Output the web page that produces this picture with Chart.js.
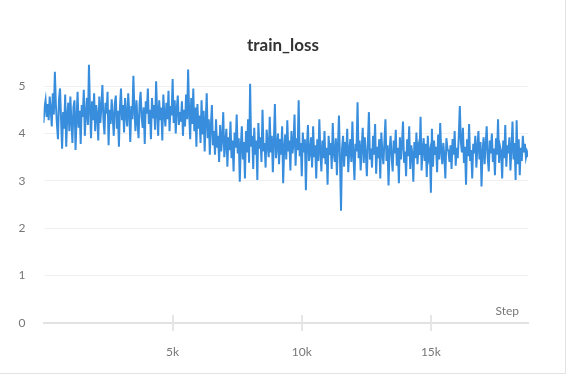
<!DOCTYPE html>
<html>
<head>
<meta charset="utf-8">
<script src="https://cdn.jsdelivr.net/npm/chart.js@4.4.1/dist/chart.umd.min.js"></script>
<style>
  html, body { margin: 0; padding: 0; background: #fff; }
  #wrap { position: relative; width: 566px; height: 375px; }
  #frame {
    position: absolute; left: 0; top: 0; width: 566px; height: 374px;
    box-sizing: border-box; border-right: 1px solid #e3e3e3; border-bottom: 1px solid #e3e3e3;
    pointer-events: none;
  }
</style>
</head>
<body>
<div id="wrap">
  <canvas id="chart" width="566" height="375"></canvas>
  <div id="frame"></div>
</div>
<script>
const STEP_INTERVAL = 40;
const LOSS = [
  // 0 - 5.3k
  4.22, 4.55, 4.70, 4.35, 4.62, 4.28, 4.78, 4.50, 4.15, 4.85, 4.40, 5.30, 4.60, 4.20, 3.88, 4.72, 4.95, 4.30, 3.68, 4.45,
  4.10, 4.82, 3.72, 4.38, 4.65, 4.05, 4.78, 4.25, 3.80, 4.55, 4.70, 3.65, 4.30, 4.88, 4.12, 4.48, 3.78, 4.60, 4.35, 4.92,
  3.95, 4.40, 4.75, 4.18, 5.45, 4.52, 3.90, 4.68, 4.28, 4.85, 4.05, 4.60, 4.40, 3.85, 4.78, 4.22, 4.55, 5.02, 4.30, 3.98,
  4.65, 4.42, 4.88, 3.75, 4.50, 4.20, 4.72, 4.35, 3.95, 4.62, 4.80, 4.10, 4.48, 3.72, 4.55, 4.95, 4.28, 4.60, 4.02, 4.75,
  4.38, 4.15, 4.85, 4.45, 3.82, 4.58, 4.30, 5.22, 4.50, 4.05, 4.70, 4.25, 3.90, 4.62, 4.88, 4.35, 4.12, 4.55, 3.78, 4.68,
  4.42, 4.95, 4.20, 4.50, 3.88, 4.75, 4.32, 4.60, 4.08, 5.10, 4.45, 3.95, 4.70, 4.28, 4.55, 3.85, 4.82, 4.40, 4.15, 4.65,
  4.30, 4.90, 4.05, 4.58, 4.38, 5.15, 4.22, 4.70, 4.00, 4.52, 4.80, 4.18, 4.45,
  // 5.3k - 6.6k
  4.25, 4.68, 3.95, 4.50, 4.15, 4.82, 4.30, 5.35, 4.40, 3.88, 4.75, 4.20, 4.95, 4.05, 4.55, 3.72, 4.62, 4.10, 4.38, 3.80,
  4.70, 3.98, 4.48, 3.62, 4.25, 4.85, 3.90, 4.30, 3.55, 4.15, 4.60, 3.75,
  // 6.6k - 10.3k
  4.05, 3.55, 4.30, 3.70, 3.95, 3.40, 4.18, 3.62, 3.88, 4.45, 3.50, 3.78, 4.10, 3.30, 3.92, 3.65, 4.25, 3.48, 3.85, 3.20,
  4.02, 3.70, 4.40, 3.58, 3.90, 2.98, 3.75, 4.15, 3.45, 3.82, 3.05, 4.05, 3.60, 4.30, 3.38, 5.05, 3.72, 3.95, 3.25, 4.12,
  3.55, 3.85, 3.02, 4.22, 3.68, 3.92, 3.40, 4.50, 3.62, 3.80, 3.28, 4.08, 3.75, 3.50, 4.35, 3.60, 3.95, 3.18, 3.82, 4.62,
  3.48, 3.72, 4.00, 3.35, 3.88, 3.55, 4.15, 2.95, 3.70, 3.98, 3.45, 4.28, 3.62, 3.85, 3.22, 4.05, 3.58, 3.78, 4.40, 3.32,
  3.90, 3.65, 4.70, 3.52, 3.80, 3.10, 4.02, 3.60, 3.88, 2.80, 3.75, 4.18, 3.42,
  // 10.3k - end
  3.60, 3.92, 3.28, 4.15, 3.50, 3.75, 3.05, 3.88, 3.42, 4.30, 3.62, 3.20, 3.85, 3.48, 4.05, 3.35, 3.70, 2.92, 3.95, 3.55,
  3.80, 3.25, 4.22, 3.58, 3.40, 3.90, 3.12, 3.72, 4.38, 3.45, 2.37, 3.68, 3.95, 3.30, 3.82, 3.52, 4.10, 3.18, 3.65, 3.88,
  3.40, 4.25, 3.55, 3.02, 3.78, 3.62, 4.66, 3.48, 3.85, 3.22, 3.70, 4.12, 3.38, 3.92, 3.58, 3.10, 3.80, 4.45, 3.45, 3.68,
  3.28, 3.95, 3.55, 4.20, 3.15, 3.72, 3.48, 3.88, 3.05, 4.02, 3.60, 3.35, 3.82, 4.30, 3.42, 3.75, 2.90, 3.65, 3.95, 3.50,
  3.20, 3.85, 3.58, 4.08, 3.32, 3.70, 2.95, 3.92, 3.45, 3.78, 4.25, 3.38, 3.62, 3.10, 3.88, 3.52, 4.15, 3.25, 3.75, 3.58,
  2.98, 3.82, 3.48, 4.02, 3.35, 3.70, 3.55, 4.35, 3.22, 3.65, 3.90, 3.42, 3.78, 3.08, 3.95, 3.50, 3.62, 2.75, 4.10, 3.30,
  3.85, 3.55, 3.72, 3.18, 3.98, 3.45, 4.22, 3.62, 3.35, 3.80, 3.52, 3.05, 3.90, 3.68, 3.62, 3.40, 3.75, 3.25, 3.88, 3.55,
  4.05, 3.32, 3.70, 3.48, 3.95, 4.58, 3.82, 3.60, 4.12, 3.38, 3.72, 2.92, 3.88, 3.52, 4.20, 3.42, 3.65, 3.05, 3.78, 3.58,
  3.95, 3.28, 3.70, 4.05, 3.45, 3.82, 2.88, 3.62, 3.92, 3.35, 3.75, 4.15, 3.50, 3.20, 3.85, 3.58, 4.00, 3.40, 3.68, 3.12,
  3.90, 3.55, 4.30, 3.38, 3.72, 3.62, 3.05, 3.85, 3.48, 4.18, 3.30, 3.75, 3.58, 3.92, 3.22, 3.68, 4.25, 3.45, 3.80, 3.02,
  4.28, 3.35, 3.88, 3.12, 3.70, 3.42, 3.95, 3.60, 3.78, 3.50, 3.62, 3.55
];
const X_TICKS = [5000, 10000, 15000];
const Y_TICKS = [0, 1, 2, 3, 4, 5];

const FONT = 'Lato, "Noto Sans", sans-serif';
const LINE_COLOR = 'rgb(56, 142, 221)';
const TEXT_COLOR = '#777';

const points = LOSS.map((v, i) => ({ x: i * STEP_INTERVAL, y: v }));
const lastStep = (LOSS.length - 1) * STEP_INTERVAL;

// tick marks crossing the x axis + the "Step" label
const axisExtras = {
  id: 'axisExtras',
  afterDraw(chart) {
    const { ctx, chartArea, scales } = chart;
    const x = scales.x;
    ctx.save();
    ctx.strokeStyle = '#e6e6e6';
    ctx.lineWidth = 2;
    X_TICKS.forEach(t => {
      const px = Math.round(x.getPixelForValue(t));
      ctx.beginPath();
      ctx.moveTo(px, chartArea.bottom - 8);
      ctx.lineTo(px, chartArea.bottom + 8);
      ctx.stroke();
    });
    ctx.fillStyle = TEXT_COLOR;
    ctx.font = '12px ' + FONT;
    ctx.textAlign = 'right';
    ctx.textBaseline = 'middle';
    ctx.fillText('Step', chartArea.right - 9, chartArea.bottom - 12);
    ctx.restore();
  }
};

new Chart(document.getElementById('chart'), {
  type: 'line',
  data: {
    datasets: [{
      label: 'train_loss',
      data: points,
      borderColor: LINE_COLOR,
      backgroundColor: LINE_COLOR,
      borderWidth: 2,
      tension: 0,
      pointRadius: ctx => ctx.dataIndex === LOSS.length - 1 ? 2.5 : 0,
      pointBorderWidth: 0,
      fill: false
    }]
  },
  options: {
    responsive: false,
    animation: false,
    layout: { padding: 0 },
    plugins: {
      legend: { display: false },
      tooltip: { enabled: false },
      title: {
        display: true,
        text: 'train_loss',
        color: '#333',
        font: { family: FONT, size: 17, weight: 'bold' },
        padding: { top: 35, bottom: 7 }
      }
    },
    scales: {
      x: {
        type: 'linear',
        min: 0,
        max: lastStep,
        afterBuildTicks: s => { s.ticks = X_TICKS.map(v => ({ value: v })); },
        afterFit: s => { s.height = 52; },
        ticks: {
          color: TEXT_COLOR,
          font: { family: FONT, size: 12 },
          padding: 14,
          maxRotation: 0,
          callback: v => (v / 1000) + 'k'
        },
        grid: { display: false },
        border: { display: true, color: '#e2e2e2', width: 2 }
      },
      y: {
        min: 0,
        max: 5.5,
        afterBuildTicks: s => { s.ticks = Y_TICKS.map(v => ({ value: v })); },
        afterFit: s => { s.width = 43.5; },
        ticks: {
          color: TEXT_COLOR,
          font: { family: FONT, size: 12 },
          padding: 18
        },
        grid: { color: '#f0f0f0', drawTicks: false, lineWidth: 1 },
        border: { display: false }
      },
      // empty right-hand gutter so the title stays centred on the whole panel
      gutter: {
        type: 'linear',
        position: 'right',
        afterFit: s => { s.width = 38; },
        ticks: { display: false },
        grid: { display: false, drawTicks: false },
        border: { display: false }
      }
    }
  },
  plugins: [axisExtras]
});
</script>
</body>
</html>
